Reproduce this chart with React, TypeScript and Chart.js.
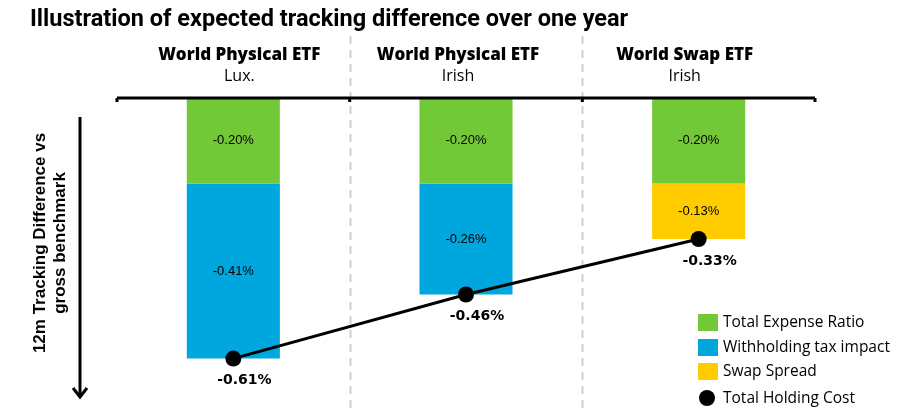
import React, { useEffect, useRef } from "react";
import { Chart, registerables } from "chart.js";

Chart.register(...registerables);

const categories = ["World Physical ETF", "World Physical ETF", "World Swap ETF"];
const domiciles = ["Lux.", "Irish", "Irish"];
const terValues = [-0.2, -0.2, -0.2];
const withholdingValues = [-0.41, -0.26, null];
const swapValues = [null, null, -0.13];
const totalValues = [-0.61, -0.46, -0.33];
const legendLabels = ["Total Expense Ratio", "Withholding tax impact", "Swap Spread", "Total Holding Cost"];
const headerOffsets = [6, -8, -14];

const GREEN = "#72C837";
const BLUE = "#00A7DF";
const YELLOW = "#FFCC00";

const fmt = (v: number) => v.toFixed(2) + "%";

const decor = {
  id: "decor",
  beforeDatasetsDraw(chart: any) {
    const { ctx, scales } = chart;
    const x = scales.x;
    ctx.save();
    ctx.strokeStyle = "#cfcfcf";
    ctx.lineWidth = 2;
    ctx.setLineDash([8, 6]);
    for (let i = 0; i < categories.length - 1; i++) {
      const xb = (x.getPixelForValue(i) + x.getPixelForValue(i + 1)) / 2;
      ctx.beginPath();
      ctx.moveTo(Math.round(xb) + 0.5, 36);
      ctx.lineTo(Math.round(xb) + 0.5, chart.height);
      ctx.stroke();
    }
    ctx.restore();
  },
  afterDatasetsDraw(chart: any) {
    const { ctx, chartArea, scales } = chart;
    const x = scales.x;
    const y = scales.y;
    ctx.save();
    // title
    ctx.fillStyle = "#000";
    ctx.textBaseline = "middle";
    ctx.textAlign = "left";
    ctx.font = "bold 23.5px Roboto";
    ctx.fillText("Illustration of expected tracking difference over one year", 30, 20);

    // headers
    ctx.textAlign = "center";
    categories.forEach((c, i) => {
      const cx = x.getPixelForValue(i) + headerOffsets[i];
      ctx.font = "800 17px 'Open Sans'";
      ctx.fillText(c, cx, 55);
      ctx.font = "16px 'Open Sans'";
      ctx.fillText(domiciles[i], cx, 76);
    });

    // top axis line
    const top = y.getPixelForValue(0);
    ctx.strokeStyle = "#000";
    ctx.lineWidth = 3;
    ctx.beginPath();
    ctx.moveTo(chartArea.left, top);
    ctx.lineTo(chartArea.right, top);
    ctx.stroke();
    const step = x.getPixelForValue(1) - x.getPixelForValue(0);
    for (let i = 0; i <= categories.length; i++) {
      const xb = x.getPixelForValue(0) - step / 2 + i * step;
      ctx.beginPath();
      ctx.moveTo(xb, top);
      ctx.lineTo(xb, top + 4);
      ctx.stroke();
    }

    // bar value labels
    ctx.font = "13px 'Liberation Sans'";
    for (let d = 0; d < 3; d++) {
      const meta = chart.getDatasetMeta(d);
      const data = chart.data.datasets[d].data;
      meta.data.forEach((el: any, i: number) => {
        const v = data[i];
        if (v === null || v === undefined) return;
        ctx.fillText(fmt(v), el.x, (el.y + el.base) / 2);
      });
    }

    // total labels
    ctx.font = "bold 14px 'DejaVu Sans'";
    const lmeta = chart.getDatasetMeta(3);
    lmeta.data.forEach((pt: any, i: number) => {
      ctx.fillText(fmt(totalValues[i]), pt.x + 11, pt.y + 22);
    });

    // y axis label
    ctx.save();
    ctx.translate(50, 243);
    ctx.rotate(-Math.PI / 2);
    ctx.font = "bold 17px 'Liberation Sans'";
    ctx.fillText("12m Tracking Difference vs", 0, -10);
    ctx.fillText("gross benchmark", 0, 10);
    ctx.restore();

    // arrow
    ctx.lineWidth = 3;
    ctx.beginPath();
    ctx.moveTo(80, 117);
    ctx.lineTo(80, 396);
    ctx.stroke();
    ctx.beginPath();
    ctx.moveTo(73, 388);
    ctx.lineTo(80, 397);
    ctx.lineTo(87, 388);
    ctx.stroke();

    // legend
    const colors = [GREEN, BLUE, YELLOW];
    const rows = [322, 347, 371, 398];
    ctx.textAlign = "left";
    ctx.font = "15.5px 'Open Sans'";
    legendLabels.forEach((l, i) => {
      if (i < 3) {
        ctx.fillStyle = colors[i];
        ctx.fillRect(698, rows[i] - 8, 20, 17);
      } else {
        ctx.fillStyle = "#000";
        ctx.beginPath();
        ctx.arc(707, rows[i], 8, 0, Math.PI * 2);
        ctx.fill();
      }
      ctx.fillStyle = "#000";
      ctx.fillText(l, 723, rows[i] + 1);
    });
    ctx.restore();
  },
};

export default function App() {
  const ref = useRef<HTMLCanvasElement>(null);
  useEffect(() => {
    if (!ref.current) return;
    const chart = new Chart(ref.current, {
      type: "bar",
      data: {
        labels: categories,
        datasets: [
          { label: legendLabels[0], data: terValues, backgroundColor: GREEN, stack: "s", order: 1 },
          { label: legendLabels[1], data: withholdingValues, backgroundColor: BLUE, stack: "s", order: 1 },
          { label: legendLabels[2], data: swapValues, backgroundColor: YELLOW, stack: "s", order: 1 },
          {
            type: "line",
            label: legendLabels[3],
            data: totalValues,
            stack: "t",
            order: 0,
            borderColor: "#000",
            backgroundColor: "#000",
            borderWidth: 3,
            pointRadius: 8,
            pointBackgroundColor: "#000",
            pointBorderWidth: 0,
          } as any,
        ],
      },
      options: {
        animation: false,
        responsive: true,
        maintainAspectRatio: false,
        layout: { autoPadding: false, padding: { left: 117, right: 100, top: 98, bottom: 0 } } as any,
        datasets: { bar: { barPercentage: 0.4, categoryPercentage: 1 } } as any,
        scales: {
          x: { display: false, stacked: true },
          y: { display: false, stacked: true, min: -0.735, max: 0 },
        },
        plugins: { legend: { display: false }, tooltip: { enabled: false }, title: { display: false } },
      },
      plugins: [decor],
    });
    return () => chart.destroy();
  }, []);
  return (
    <div style={{ position: "absolute", left: 0, top: 0, width: 915, height: 412, background: "#fff" }}>
      <canvas ref={ref} />
    </div>
  );
}
